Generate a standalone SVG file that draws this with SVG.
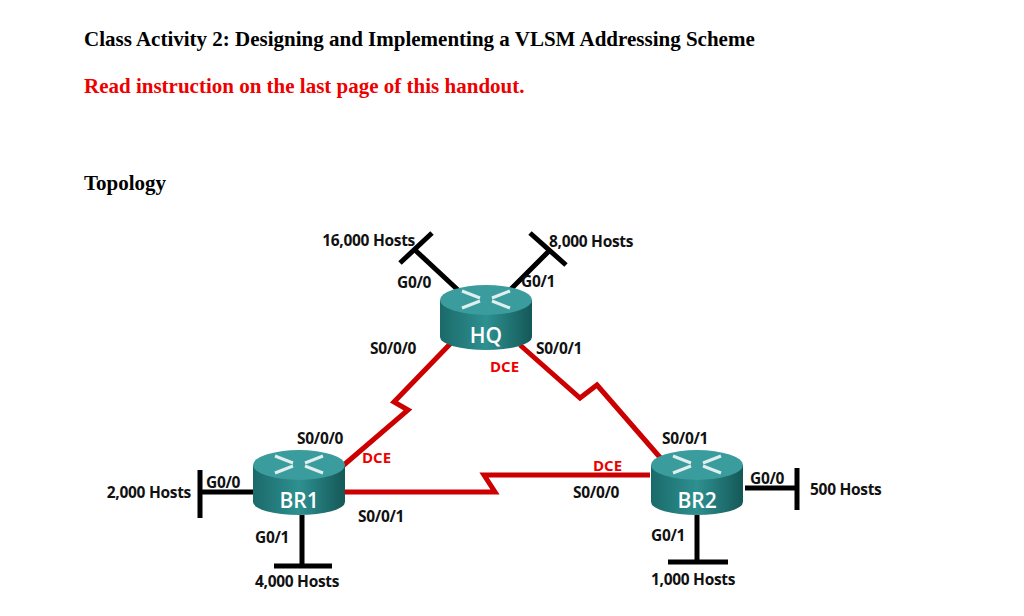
<svg xmlns="http://www.w3.org/2000/svg" width="1024" height="616" viewBox="0 0 1024 616">
<defs>
<style>
.t{font-family:"Liberation Serif",serif;font-weight:bold;font-size:21px}
.l{font-family:"Open Sans","DejaVu Sans",sans-serif;font-weight:bold;font-size:15.5px;fill:#111;letter-spacing:-0.3px}
.d{font-family:"Open Sans","DejaVu Sans",sans-serif;font-weight:bold;font-size:15px;fill:#e00}
.s{stroke:#c00;stroke-width:5;fill:none;stroke-linejoin:miter}
.e{stroke:#000;stroke-width:5;fill:none}
.n{font-family:"Open Sans","DejaVu Sans",sans-serif;font-weight:600;font-size:21px;fill:#fff}
</style>
<linearGradient id="body" x1="0" x2="1" y1="0" y2="0">
<stop offset="0" stop-color="#1b6a6a"/><stop offset="0.5" stop-color="#2e9090"/><stop offset="1" stop-color="#155858"/>
</linearGradient>
<g id="router">
<path d="M-46,-10 L-46,27 A46,13 0 0 0 46,27 L46,-10 Z" fill="url(#body)"/>
<ellipse cx="0" cy="-10" rx="46" ry="15" fill="#3a9c9c"/>
<g stroke="#dfeeee" stroke-width="3" fill="none">
<path d="M-24,-19 L-6,-12 M24,-2 L6,-9 M24,-19 L6,-12 M-24,-2 L-6,-9"/>
</g>
</g>
</defs>
<rect width="1024" height="616" fill="#fff"/>
<text class="t" x="84" y="46">Class Activity 2: Designing and Implementing a VLSM Addressing Scheme</text>
<text class="t" x="84" y="93" fill="#e00">Read instruction on the last page of this handout.</text>
<text class="t" x="84" y="190">Topology</text>
<g id="connectors">
<path class="e" d="M458,290 L415,250 M400,263 L432,233"/>
<path class="e" d="M510,290 L550,250 M530,233 L566,265"/>
<path class="e" d="M253,492 L200,492 M200,470 L200,518"/>
<path class="e" d="M302,515 L302,566 M274,566 L332,566"/>
<path class="e" d="M745,488 L797,488 M797,468 L797,510"/>
<path class="e" d="M697,515 L697,562 M668,562 L728,562"/>
<path class="s" d="M452,342 L394,402 L408,410 L338,470"/>
<path class="s" d="M520,345 L580,398 L597,385 L664,462"/>
<path class="s" d="M345,492 L495,492 L484,475 L650,475"/>
</g>
<g id="HQ" transform="translate(486,310)"><use href="#router"/><text class="n" x="0" y="33" text-anchor="middle">HQ</text></g>
<g id="BR1" transform="translate(299,475)"><use href="#router"/><text class="n" x="0" y="33" text-anchor="middle">BR1</text></g>
<g id="BR2" transform="translate(697,475)"><use href="#router"/><text class="n" x="0" y="33" text-anchor="middle">BR2</text></g>
<g id="labels">
<text class="l" x="415" y="246" text-anchor="end">16,000 Hosts</text>
<text class="l" x="549" y="247">8,000 Hosts</text>
<text class="l" x="397" y="288">G0/0</text>
<text class="l" x="521" y="287">G0/1</text>
<text class="l" x="370" y="354">S0/0/0</text>
<text class="l" x="536" y="354">S0/0/1</text>
<text class="d" x="490" y="372">DCE</text>
<text class="l" x="297" y="444">S0/0/0</text>
<text class="d" x="362" y="463">DCE</text>
<text class="l" x="662" y="444">S0/0/1</text>
<text class="d" x="593" y="471">DCE</text>
<text class="l" x="573" y="498">S0/0/0</text>
<text class="l" x="358" y="522">S0/0/1</text>
<text class="l" x="206" y="488">G0/0</text>
<text class="l" x="191" y="498" text-anchor="end">2,000 Hosts</text>
<text class="l" x="255" y="543">G0/1</text>
<text class="l" x="255" y="587">4,000 Hosts</text>
<text class="l" x="750" y="484">G0/0</text>
<text class="l" x="810" y="495">500 Hosts</text>
<text class="l" x="651" y="541">G0/1</text>
<text class="l" x="651" y="585">1,000 Hosts</text>
</g>
</svg>
